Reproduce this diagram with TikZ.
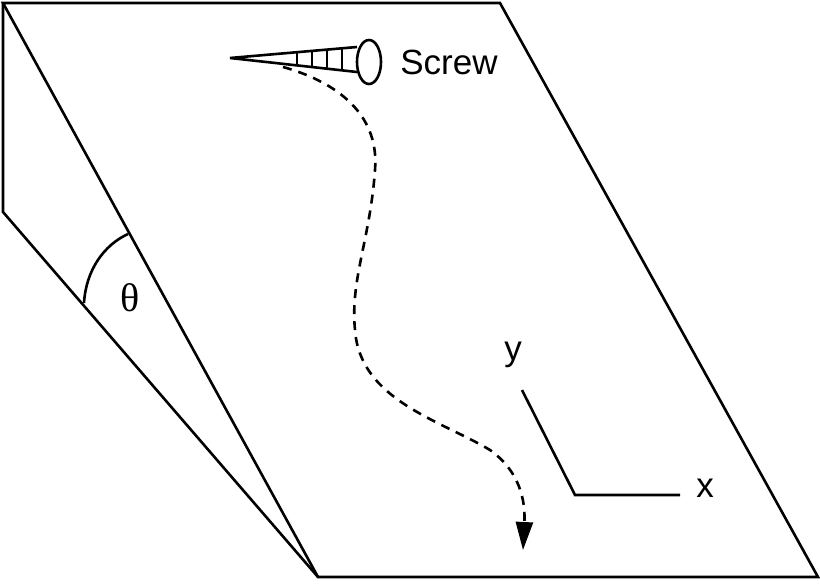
\documentclass[tikz,border=0pt]{standalone}
\usepackage{fontspec}
\setmainfont{Liberation Sans}
\newfontfamily\grk{Liberation Serif}
\usetikzlibrary{arrows.meta,shapes.geometric}
\begin{document}
\begin{tikzpicture}[x=1pt,y=-1pt,line width=2.6pt,
  lbl/.style={inner sep=0pt,font=\fontsize{35}{35}\selectfont}]
\useasboundingbox (0,0) rectangle (820,584);
\coordinate (A) at (3,3); \coordinate (B) at (500,3);
\coordinate (C) at (818,577); \coordinate (D) at (318,577);
\coordinate (E) at (3,212);
\draw (A) -- (B) -- (C) -- (D) -- cycle;
\draw (A) -- (E) -- (D);
\draw (84,303) .. controls (86,270) and (104,245) .. (128,234);
\node[inner sep=0pt,font=\grk\fontsize{40}{40}\selectfont] (th) at (130,298) {θ};
% screw
\coordinate (tip) at (230,58);
\node[draw,ellipse,minimum width=24pt,minimum height=44pt,inner sep=0pt] (head) at (369,62) {};
\draw (tip) -- (357,47) (tip) -- (357,72);
\foreach \x in {297,312,327,342}{
  \pgfmathsetmacro\t{(\x-230)/127}
  \draw (\x,58-11*\t) -- (\x,58+14*\t);}
\node[lbl,anchor=west] (scr) at (399,62) {Screw};
\draw[dashed,dash pattern=on 9pt off 7pt,-{Triangle[length=28pt,width=17pt]}]
  (283,67) .. controls (330,80) and (380,110) .. (375,170)
  .. controls (370,240) and (350,280) .. (355,330)
  .. controls (360,400) and (440,420) .. (490,450)
  .. controls (525,475) and (525,510) .. (523,550);
% axes
\coordinate (O) at (575,495);
\draw (522,390) -- (O) -- (680,495);
\node[lbl] (yl) at (513,355) {y};
\node[lbl] (xl) at (705,488) {x};
\end{tikzpicture}
\end{document}
